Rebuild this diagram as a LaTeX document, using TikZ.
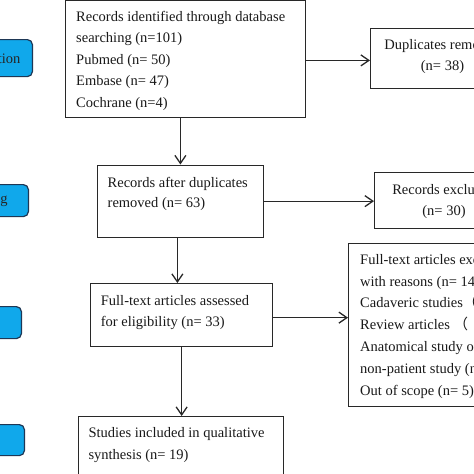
\documentclass[tikz,border=0pt]{standalone}
\usepackage{fontspec}
\setmainfont{Liberation Serif}
\newfontfamily\cjkfont{Noto Sans CJK SC}
\usetikzlibrary{arrows.meta}
\definecolor{stageblue}{RGB}{16,168,235}
\definecolor{stageedge}{RGB}{30,55,85}
\definecolor{boxedge}{RGB}{40,40,40}
\begin{document}
\begin{tikzpicture}[x=1pt,y=-1pt,
  flowbox/.style={draw=boxedge, line width=1.3pt, anchor=north west, inner sep=0pt},
  stagebox/.style={draw=stageedge, fill=stageblue, line width=1.2pt, rounded corners=5pt,
    anchor=north east, inner sep=0pt, font=\fontsize{14.5}{17}\selectfont, text=black!85},
  txt/.style={anchor=north west, inner sep=0pt, align=left,
    font=\fontsize{14.5}{#1}\selectfont, text=black!90},
  txt/.default=21.7,
  ctxt/.style={anchor=north, inner sep=0pt, align=center,
    font=\fontsize{14.5}{#1}\selectfont, text=black!90},
  ctxt/.default=21.4,
  arr/.style={draw=boxedge, line width=1.3pt, -{Straight Barb[length=8pt,width=11pt]}}]
\useasboundingbox (0,0) rectangle (474,474);

% stage labels (left, partly outside the frame)
\node[stagebox, minimum width=102pt, minimum height=37pt] (sA) at (33,39) {Identification};
\node[stagebox, minimum width=99.4pt, minimum height=32pt] (sB) at (29,184) {Screening};
\node[stagebox, minimum width=100pt, minimum height=32pt] (sC) at (22,306) {};
\node[stagebox, minimum width=100pt, minimum height=31pt] (sD) at (25,424) {};

% flow boxes
\node[flowbox, minimum width=239.5pt, minimum height=117.5pt] (b1) at (65,-0.5) {};
\node[flowbox, minimum width=145pt, minimum height=60pt] (b2) at (370,28) {};
\node[flowbox, minimum width=166.5pt, minimum height=72pt] (b3) at (96.5,164.5) {};
\node[flowbox, minimum width=140pt, minimum height=56pt] (b4) at (374,172) {};
\node[flowbox, minimum width=182pt, minimum height=63pt] (b5) at (90,283) {};
\node[flowbox, minimum width=182pt, minimum height=163pt] (b6) at (348,243) {};
\node[flowbox, minimum width=205pt, minimum height=58.5pt] (b7) at (78,416) {};

% texts
\node[txt=21.65] (t1) at (76,9.8) {\rule{0pt}{11pt}Records identified through database\\searching (n=101)\\Pubmed (n= 50)\\Embase (n= 47)\\Cochrane (n=4)};
\node[ctxt=21.4] (t2) at (442.5,38.3) {\rule{0pt}{11pt}Duplicates removed\\(n= 38)};
\node[txt=20] (t3) at (107.5,176) {\rule{0pt}{11pt}Records after duplicates\\removed (n= 63)};
\node[ctxt=20.7] (t4) at (444,183.3) {\rule{0pt}{11pt}Records excluded\\(n= 30)};
\node[txt=21] (t5) at (100.7,294) {\rule{0pt}{11pt}Full-text articles assessed\\for eligibility (n= 33)};
\node[txt=21.8] (t6) at (360,253) {\rule{0pt}{11pt}Full-text articles excluded,\\with reasons (n= 14)\\Cadaveric studies{\cjkfont （}\\Review articles {\cjkfont （}\\Anatomical study of\\non-patient study (n\\Out of scope (n= 5)};
\node[txt=21.3] (t7) at (88.3,426.7) {\rule{0pt}{11pt}Studies included in qualitative\\synthesis (n= 19)};

% connectors
\draw[arr] ([yshift=-1.5pt]b1.east) -- ([yshift=-1.5pt]b1.east -| b2.west);
\draw[arr] (b3.north |- b1.south) -- (b3.north);
\draw[arr] (b3.east) -- (b3.east -| b4.west);
\draw[arr] ([xshift=-3pt]b3.south) -- ([xshift=-3pt]b3.south |- b5.north);
\draw[arr] ([yshift=-2.5pt]b5.east) -- ([yshift=-2.5pt]b5.east -| b6.west);
\draw[arr] (b5.south) -- (b5.south |- b7.north);
\end{tikzpicture}
\end{document}
